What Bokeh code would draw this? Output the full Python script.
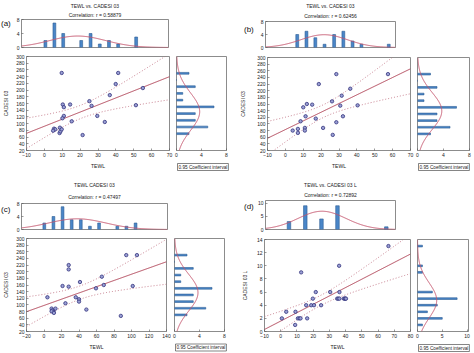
import numpy as np
from bokeh.plotting import figure
from bokeh.models import Range1d, FixedTicker, Title
from bokeh.core.properties import value
from bokeh.layouts import column, row
from bokeh.embed import file_html
from bokeh.resources import INLINE

FONT = "Liberation Sans"

# ---------------- data ----------------
# panel (a)
a_title = "TEWL vs. CADESI 03"
a_corr = "Correlation: r = 0.58879"
a_tewl = [9.7, 41.3, 39.9, 36.6, 55.1, 25.2, 10.3, 14.4, 10.9, 26.4, 51.2, 10.9,
          10.1, 29.6, 15.3, 33.8, 21.4, 5.4, 6.1, 4.9, 8.5, 9.0, 8.7, 9.7]
a_cadesi = [251, 251, 218, 185, 206, 167, 157, 157, 149, 153, 155, 123,
            116, 123, 107, 105, 66, 85, 83, 79, 72, 77, 88, 83]
a_tewl_bins = [3.0, 7.9, 12.7, 22.5, 27.6, 32.6, 37.6, 42.6, 52.4]
a_tewl_counts = [2, 7, 4, 2, 4, 1, 2, 1, 3]

# panel (b)
b_title = "TEWL vs. CADESI 03"
b_corr = "Correlation: r = 0.62456"
b_tewl = [28.5, 57.4, 18.7, 36.3, 31.5, 26.1, 12.0, 15.0, 10.0, 30.7, 40.4, 11.3,
          17.0, 8.5, 32.2, 28.5, 21.1, 26.5, 4.1, 7.0, 7.0, 10.9, 10.9]
b_cadesi = [250, 250, 220, 206, 185, 168, 160, 158, 150, 155, 156, 123,
            116, 108, 123, 105, 88, 67, 80, 85, 73, 88, 80]
b_tewl_bins = [6.2, 11.4, 16.4, 21.6, 27.0, 32.2, 37.4, 42.4, 57.8]
b_tewl_counts = [4, 5, 3, 1, 4, 5, 2, 1, 1]

# panel (c)
c_title = "TEWL CADESI 03"
c_corr = "Correlation: r = 0.47497"
c_tewl = [94.0, 106.2, 28.2, 28.2, 66.1, 41.1, 68.3, 21.2, 28.2, 101.4, 59.4, 3.9,
          36.3, 40.0, 40.0, 24.5, 48.4, 87.8, 8.7, 9.8, 10.9, 8.7, 11.3, 13.1]
c_cadesi = [250, 250, 220, 207, 185, 169, 160, 157, 155, 157, 150, 123,
            123, 117, 110, 105, 86, 67, 89, 84, 79, 81, 76, 89]
c_tewl_bins = [5, 15, 25, 35, 45, 55, 65, 85, 95, 105]
c_tewl_counts = [2, 4, 7, 3, 3, 1, 2, 1, 1, 2]

# CADESI 03 histogram (panels a, b, c)
cadesi_bins = [70, 90, 110, 130, 150, 170, 190, 210, 230, 250]
cadesi_counts = [2, 5, 3, 3, 6, 1, 1, 3, 0, 2]

# panel (d)
d_title = "TEWL vs. CADESI 03 L"
d_corr = "Correlation: r = 0.72892"
d_tewl = [66.4, 36.0, 12.6, 21.6, 30.5, 36.2, 19.8, 34.8, 35.5, 36.2, 38.9, 39.5, 39.9,
          40.2, 15.7, 18.8, 20.5, 24.9, 3.4, 9.1, 0.7, 10.6, 11.6, 12.2, 16.3, 8.9]
d_cadesi = [13, 10, 9, 6, 6, 6, 5, 5, 5, 5, 5, 5, 5,
            5, 4, 4, 4, 4, 3, 3, 2, 2, 2, 2, 2, 1]
d_tewl_bins = [3.8, 14.1, 24.3, 34.4, 65.2]
d_tewl_counts = [3, 9, 4, 9, 1]
d_cadesi_bins = [1, 2, 3, 4, 5, 6, 9, 10, 13]
d_cadesi_counts = [1, 5, 2, 4, 8, 3, 1, 1, 1]

x_label = "TEWL"
y_label_abc = "CADESI 03"
y_label_d = "CADESI 03 L"
legend_text = "0.95 Coefficient interval"

# ---------------- styling helpers ----------------
BAR_FILL = "#4a86c8"
BAR_LINE = "#2c5d94"
CURVE = "#c4566e"
REG = "#b04558"
CI = "#c27485"


def style_axis(ax, standoff=3):
    ax.major_label_text_font = FONT
    ax.major_label_text_font_size = "5px"
    ax.major_label_text_color = "#222222"
    ax.axis_label_text_font = FONT
    ax.axis_label_text_font_size = "5px"
    ax.axis_label_text_font_style = "normal"
    ax.axis_label_text_color = "#222222"
    ax.axis_label_standoff = standoff
    ax.major_label_standoff = 2
    ax.major_tick_in = 2
    ax.major_tick_out = 0
    ax.minor_tick_in = 0
    ax.minor_tick_out = 0
    ax.axis_line_color = None
    ax.major_tick_line_color = "#555555"
    ax.major_tick_line_width = 0.6


def mkfig(w, h, l, r, t, b, xr, yr):
    p = figure(width=w, height=h, x_range=Range1d(*xr), y_range=Range1d(*yr),
               toolbar_location=None, output_backend="svg", title=None,
               min_border_left=l, min_border_right=r,
               min_border_top=t, min_border_bottom=b)
    p.xgrid.visible = False
    p.ygrid.visible = False
    p.outline_line_color = "#6e6e6e"
    p.outline_line_width = 0.8
    p.background_fill_color = "white"
    p.border_fill_color = "white"
    return p


def mktitle(text, offset, standoff, **kw):
    return Title(text=text, align=kw.pop("align", "center"), offset=offset, standoff=standoff,
                 text_font=FONT, text_font_size=kw.pop("size", "5px"),
                 text_font_style="normal", text_color="#222222", **kw)


def tag_figure(tag, w, h, tx, ty):
    # small blank figure (pixel-sized ranges) that only carries the panel letter
    p = mkfig(w, h, 0, 0, 0, 0, (0, w), (0, h))
    p.axis.visible = False
    p.outline_line_color = None
    p.text(x=[tx], y=[h - ty], text=[tag], text_font=value(FONT), text_font_size="8px",
           text_align="left", text_baseline="middle", text_color="#111111", text_alpha=1.0)
    return p


def normal_curve(vals, counts, centers, lo, hi):
    v = np.asarray(vals, float)
    n = float(np.sum(counts))
    bw = float(np.min(np.diff(np.sort(np.asarray(centers, float)))))
    m, s = v.mean(), v.std(ddof=1)
    g = np.linspace(lo, hi, 300)
    return g, n * bw / (s * np.sqrt(2 * np.pi)) * np.exp(-0.5 * ((g - m) / s) ** 2)


def fit_lines(x, y, lo, hi):
    x = np.asarray(x, float)
    y = np.asarray(y, float)
    n = len(x)
    b, a = np.polyfit(x, y, 1)
    g = np.linspace(lo, hi, 200)
    yh = a + b * g
    res = y - (a + b * x)
    s = np.sqrt(np.sum(res ** 2) / (n - 2))
    sxx = np.sum((x - x.mean()) ** 2)
    se = s * np.sqrt(1.0 / n + (g - x.mean()) ** 2 / sxx)
    tval = 2.07
    return g, yh, yh - tval * se, yh + tval * se


def build_panel(cfg):
    tewl, cad = cfg["tewl"], cfg["cad"]
    tb, tc = cfg["tbins"], cfg["tcounts"]
    cb, cc = cfg["cbins"], cfg["ccounts"]

    # ---- top histogram ----
    ox, oy, w, h, l, r, t, b = cfg["top"]
    top = mkfig(w, h, l, r, t, b, cfg["top_xr"], cfg["top_yr"])
    top.xaxis.visible = False
    style_axis(top.yaxis[0])
    top.yaxis.ticker = FixedTicker(ticks=cfg["top_yticks"])
    tbw = float(np.min(np.diff(np.sort(np.asarray(tb, float)))))
    top.vbar(x=tb, top=tc, width=tbw * cfg["bar_frac"], bottom=0,
             fill_color=BAR_FILL, line_color=BAR_LINE, line_width=0.6)
    gx, gy = normal_curve(tewl, tc, tb, cfg["top_xr"][0], cfg["top_xr"][1])
    top.line(gx, gy, line_color=CURVE, line_width=1)
    frame_cx = ox + l + (w - l - r) / 2.0
    top.add_layout(mktitle(cfg["corr"], cfg["title_x"] - frame_cx, cfg["corr_standoff"]), "above")
    top.add_layout(mktitle(cfg["title"], cfg["title_x"] - frame_cx, 0), "above")
    tagw = ox - cfg["px"]
    tagfig = tag_figure(cfg["tag"], tagw, h, cfg["tag_x"] - cfg["px"], cfg["tag_y"] - oy)

    # ---- scatter ----
    ox, oy, w, h, l, r, t, b = cfg["scat"]
    sc = mkfig(w, h, l, r, t, b, cfg["xr"], cfg["yr"])
    style_axis(sc.xaxis[0])
    style_axis(sc.yaxis[0], standoff=cfg["ylab_standoff"])
    sc.xaxis.ticker = FixedTicker(ticks=cfg["xticks"])
    sc.yaxis.ticker = FixedTicker(ticks=cfg["yticks"])
    sc.xaxis.axis_label = x_label
    sc.yaxis.axis_label = cfg["ylabel"]
    g, yh, lo, hi = fit_lines(tewl, cad, cfg["xr"][0], cfg["xr"][1])
    sc.line(g, lo, line_color=CI, line_width=0.9, line_dash="1 2")
    sc.line(g, hi, line_color=CI, line_width=0.9, line_dash="1 2")
    sc.line(g, yh, line_color=REG, line_width=1)
    sc.scatter(tewl, cad, marker="circle", size=3.4, line_color="#34347e",
               fill_color="#9aa0d4", line_width=0.8)

    # ---- right histogram ----
    ox, oy, w, h, l, r, t, b = cfg["right"]
    rh = mkfig(w, h, l, r, t, b, cfg["right_xr"], cfg["yr"])
    rh.yaxis.visible = False
    style_axis(rh.xaxis[0])
    rh.xaxis.ticker = FixedTicker(ticks=cfg["right_xticks"])
    cbw = float(np.min(np.diff(np.sort(np.asarray(cb, float)))))
    rh.hbar(y=cb, right=cc, left=0, height=cbw * 0.26,
            fill_color=BAR_FILL, line_color=BAR_LINE, line_width=0.6)
    cy, cx = normal_curve(cad, cc, cb, cfg["yr"][0], cfg["yr"][1])
    rh.line(cx, cy, line_color=CURVE, line_width=1)
    rh.add_layout(mktitle(legend_text, 1, cfg["leg_standoff"], align="left", size="4.7px",
                          border_line_color="#333333", border_line_width=0.6,
                          background_fill_color="white", padding=1), "below")

    return column(row(tagfig, top), row(sc, rh))


panels = {
    "a": dict(tewl=a_tewl, cad=a_cadesi, tbins=a_tewl_bins, tcounts=a_tewl_counts,
              cbins=cadesi_bins, ccounts=cadesi_counts, title=a_title, corr=a_corr, tag="(a)",
              px=0, top=(13, 0, 224, 52, 8, 69, 16, 5), scat=(0, 52, 173, 127, 21, 4, 4, 29),
              right=(173, 52, 64, 127, 3, 11, 4, 29),
              top_xr=(-10, 70), top_yr=(0, 8), top_yticks=[0, 4, 8], bar_frac=0.32,
              xr=(-10, 70), yr=(20, 300), xticks=list(range(-10, 71, 10)),
              yticks=list(range(20, 301, 20)), ylabel=y_label_abc, ylab_standoff=4,
              right_xr=(0, 8), right_xticks=[0, 4, 8],
              title_x=117, corr_standoff=3, tag_x=0.5, tag_y=7, leg_standoff=4),
    "b": dict(tewl=b_tewl, cad=b_cadesi, tbins=b_tewl_bins, tcounts=b_tewl_counts,
              cbins=cadesi_bins, ccounts=cadesi_counts, title=b_title, corr=b_corr, tag="(b)",
              px=237, top=(257, 0, 217, 52, 6, 79, 17, 5), scat=(237, 52, 177, 127, 29, 4, 5, 29),
              right=(414, 52, 60, 127, 3, 5, 5, 29),
              top_xr=(-11.7, 61.6), top_yr=(0, 8), top_yticks=[0, 4, 8], bar_frac=0.32,
              xr=(-10, 70), yr=(20, 300), xticks=list(range(-10, 71, 10)),
              yticks=list(range(20, 301, 20)), ylabel=y_label_abc, ylab_standoff=8,
              right_xr=(0, 8), right_xticks=[0, 4, 8],
              title_x=337, corr_standoff=5, tag_x=243.5, tag_y=15, leg_standoff=4),
    "c": dict(tewl=c_tewl, cad=c_cadesi, tbins=c_tewl_bins, tcounts=c_tewl_counts,
              cbins=cadesi_bins, ccounts=cadesi_counts, title=c_title, corr=c_corr, tag="(c)",
              px=0, top=(13, 179, 224, 54, 8, 70, 21, 4), scat=(0, 233, 171, 120, 21, 5, 5, 22),
              right=(171, 233, 66, 120, 3, 13, 5, 22),
              top_xr=(-20, 140), top_yr=(0, 8), top_yticks=[0, 4, 8], bar_frac=0.3,
              xr=(-20, 140), yr=(20, 300), xticks=list(range(-20, 141, 20)),
              yticks=list(range(20, 301, 20)), ylabel=y_label_abc, ylab_standoff=4,
              right_xr=(0, 8), right_xticks=[0, 4, 8],
              title_x=118, corr_standoff=8, tag_x=0.5, tag_y=190.5, leg_standoff=3),
    "d": dict(tewl=d_tewl, cad=d_cadesi, tbins=d_tewl_bins, tcounts=d_tewl_counts,
              cbins=d_cadesi_bins, ccounts=d_cadesi_counts, title=d_title, corr=d_corr, tag="(d)",
              px=237, top=(254, 179, 220, 54, 8, 79, 21, 4), scat=(237, 233, 177, 120, 27, 4, 6, 21),
              right=(414, 233, 60, 120, 3, 6, 6, 21),
              top_xr=(-11, 71), top_yr=(0, 11), top_yticks=[0, 5, 10], bar_frac=0.22,
              xr=(-10, 80), yr=(0, 14), xticks=list(range(-10, 81, 10)),
              yticks=list(range(0, 15, 2)), ylabel=y_label_d, ylab_standoff=6,
              right_xr=(0, 10.3), right_xticks=[0, 5, 10],
              title_x=357, corr_standoff=5, tag_x=243.5, tag_y=190, leg_standoff=4),
}

colA = build_panel(panels["a"])
colB = build_panel(panels["b"])
colC = build_panel(panels["c"])
colD = build_panel(panels["d"])

layout = column(row(colA, colB), row(colC, colD))

with open("out.html", "w") as f:
    f.write(file_html(layout, INLINE))
